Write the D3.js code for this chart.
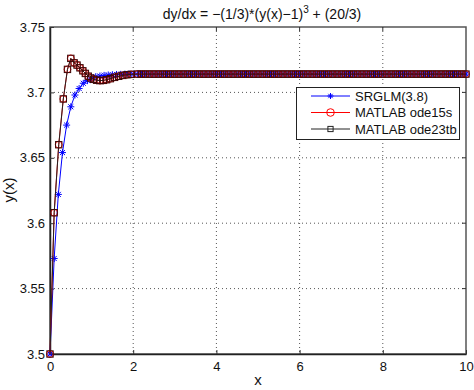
<!DOCTYPE html>
<html><head><meta charset="utf-8">
<script src="https://cdn.jsdelivr.net/npm/d3@7"></script>
<style>body{margin:0;background:#fff}svg{display:block;font-family:"Liberation Sans",Arial,sans-serif}</style>
</head><body><svg id="c" width="474" height="390"></svg>
<script>
const xTicks = [0, 2, 4, 6, 8, 10];
const yTicks = [3.5, 3.55, 3.6, 3.65, 3.7, 3.75];
const yTickLabels = ["3.5", "3.55", "3.6", "3.65", "3.7", "3.75"];
const seriesNames = ["SRGLM(3.8)", "MATLAB ode15s", "MATLAB ode23tb"];

// common flat tail (x = 2.1 .. 10)
const xTail = [2.1,2.2,2.3,2.4,2.5,2.6,2.7,2.8,2.9,3.0,3.1,3.2,3.3,3.4,3.5,3.6,3.7,3.8,3.9,4.0,
  4.1,4.2,4.3,4.4,4.5,4.6,4.7,4.8,4.9,5.0,5.1,5.2,5.3,5.4,5.5,5.6,5.7,5.8,5.9,6.0,
  6.1,6.2,6.3,6.4,6.5,6.6,6.7,6.8,6.9,7.0,7.1,7.2,7.3,7.4,7.5,7.6,7.7,7.8,7.9,8.0,
  8.1,8.2,8.3,8.4,8.5,8.6,8.7,8.8,8.9,9.0,9.1,9.2,9.3,9.4,9.5,9.6,9.7,9.8,9.9,10.0];
const yTail = [3.714,3.714,3.714,3.714,3.714,3.714,3.714,3.714,3.714,3.714,3.714,3.714,3.714,3.714,3.714,3.714,3.714,3.714,3.714,3.714,
  3.714,3.714,3.714,3.714,3.714,3.714,3.714,3.714,3.714,3.714,3.714,3.714,3.714,3.714,3.714,3.714,3.714,3.714,3.714,3.714,
  3.714,3.714,3.714,3.714,3.714,3.714,3.714,3.714,3.714,3.714,3.714,3.714,3.714,3.714,3.714,3.714,3.714,3.714,3.714,3.714,
  3.714,3.714,3.714,3.714,3.714,3.714,3.714,3.714,3.714,3.714,3.714,3.714,3.714,3.714,3.714,3.714,3.714,3.714,3.714,3.714];

// SRGLM early part
const xSrglm = [0,0.1,0.2,0.3,0.4,0.5,0.6,0.7,0.8,0.9,1.0,1.1,1.2,1.3,1.4,1.5,1.6,1.7,1.8,1.9,2.0];
const ySrglm = [3.5,3.573,3.622,3.654,3.675,3.689,3.698,3.703,3.707,3.709,3.711,3.712,3.7125,3.713,3.7133,3.7135,3.7137,3.7138,3.714,3.714,3.714];

// MATLAB solvers early part
const xOde = [0,0.1,0.21,0.32,0.42,0.5,0.58,0.65,0.72,0.79,0.85,0.92,0.98,1.05,1.12,1.2,1.28,1.36,1.45,1.55,1.65,1.75,1.85,1.95];
const yOde15s = [3.5,3.608,3.66,3.695,3.7176,3.726,3.7226,3.7209,3.7188,3.7165,3.7145,3.7124,3.711,3.710,3.7093,3.709,3.7092,3.7097,3.7105,3.7115,3.7123,3.713,3.7135,3.7138];
const yOde23tb = [3.5,3.608,3.66,3.695,3.7176,3.726,3.7226,3.7209,3.7188,3.7165,3.7145,3.7124,3.711,3.710,3.7093,3.709,3.7092,3.7097,3.7105,3.7115,3.7123,3.713,3.7135,3.7138];

const W = 474, H = 390;
const m = {l: 50, r: 466, t: 27, b: 354};
const svg = d3.select("#c");
const x = d3.scaleLinear().domain([0, 10]).range([m.l, m.r]);
const y = d3.scaleLinear().domain([3.5, 3.75]).range([m.b, m.t]);

// grid
const g = svg.append("g");
xTicks.slice(1, -1).forEach(v => g.append("line").attr("x1", x(v)).attr("x2", x(v)).attr("y1", m.t).attr("y2", m.b)
  .attr("stroke", "#555").attr("stroke-width", 1).attr("stroke-dasharray", "1,3"));
yTicks.slice(1, -1).forEach(v => g.append("line").attr("x1", m.l).attr("x2", m.r).attr("y1", y(v)).attr("y2", y(v))
  .attr("stroke", "#555").attr("stroke-width", 1).attr("stroke-dasharray", "1,3"));

// box
svg.append("rect").attr("x", m.l).attr("y", m.t).attr("width", m.r - m.l).attr("height", m.b - m.t)
  .attr("fill", "none").attr("stroke", "#555").attr("stroke-width", 1.5);

// axes
const xAxis = d3.axisBottom(x).tickValues(xTicks).tickSizeInner(-4).tickSizeOuter(0).tickPadding(8).tickFormat(d3.format("d"));
const yAxis = d3.axisLeft(y).tickValues(yTicks).tickSizeInner(-4).tickSizeOuter(0).tickPadding(5).tickFormat((d, i) => yTickLabels[i]);
const gx = svg.append("g").attr("transform", `translate(0,${m.b})`).call(xAxis);
const gy = svg.append("g").attr("transform", `translate(${m.l},0)`).call(yAxis);
[gx, gy].forEach(a => {
  a.select(".domain").attr("stroke", "#222").attr("stroke-width", 1.5);
  a.selectAll(".tick line").attr("stroke", "#333");
  a.selectAll("text").attr("font-size", 13).attr("fill", "#111").attr("font-family", '"Liberation Sans",Arial,sans-serif');
});
// top/right ticks
const ta = svg.append("g");
xTicks.slice(1, -1).forEach(v => ta.append("line").attr("x1", x(v)).attr("x2", x(v)).attr("y1", m.t).attr("y2", m.t + 4).attr("stroke", "#333"));
yTicks.slice(1, -1).forEach(v => ta.append("line").attr("x1", m.r).attr("x2", m.r - 4).attr("y1", y(v)).attr("y2", y(v)).attr("stroke", "#333"));

// markers
function star(sel, cx, cy, s, col) {
  const p = `M${cx - s},${cy}L${cx + s},${cy}M${cx},${cy - s}L${cx},${cy + s}` +
    `M${cx - s * 0.72},${cy - s * 0.72}L${cx + s * 0.72},${cy + s * 0.72}M${cx - s * 0.72},${cy + s * 0.72}L${cx + s * 0.72},${cy - s * 0.72}`;
  sel.append("path").attr("d", p).attr("stroke", col).attr("stroke-width", 1).attr("fill", "none");
}
function circle(sel, cx, cy, r, col) {
  sel.append("circle").attr("cx", cx).attr("cy", cy).attr("r", r).attr("fill", "none").attr("stroke", col).attr("stroke-width", 1);
}
function square(sel, cx, cy, s, col) {
  sel.append("rect").attr("x", cx - s).attr("y", cy - s).attr("width", 2 * s).attr("height", 2 * s)
    .attr("fill", "none").attr("stroke", col).attr("stroke-width", 1);
}

const line = d3.line().x(d => x(d[0])).y(d => y(d[1]));
const mk = (xs, ys) => xs.map((v, i) => [v, ys[i]]);
const dS = mk(xSrglm, ySrglm).concat(mk(xTail, yTail));
const d15 = mk(xOde, yOde15s).concat(mk(xTail, yTail));
const d23 = mk(xOde, yOde23tb).concat(mk(xTail, yTail));

const colors = ["#0000ff", "#ff0000", "#000000"];
const plot = svg.append("g");
plot.append("path").datum(dS).attr("d", line).attr("fill", "none").attr("stroke", colors[0]).attr("stroke-width", 1);
dS.forEach(d => star(plot, x(d[0]), y(d[1]), 3.5, colors[0]));
plot.append("path").datum(d15).attr("d", line).attr("fill", "none").attr("stroke", colors[1]).attr("stroke-width", 1);
d15.forEach(d => circle(plot, x(d[0]), y(d[1]), 3.4, colors[1]));
plot.append("path").datum(d23).attr("d", line).attr("fill", "none").attr("stroke", "#222").attr("stroke-width", 1);
d23.forEach(d => square(plot, x(d[0]), y(d[1]), 3.2, "#3a0a0a"));

// legend
const lg = svg.append("g");
lg.append("rect").attr("x", 296.5).attr("y", 87.5).attr("width", 163).attr("height", 52)
  .attr("fill", "#fff").attr("stroke", "#222").attr("stroke-width", 1);
const ly = [96, 112.5, 129];
seriesNames.forEach((n, i) => {
  lg.append("line").attr("x1", 311).attr("x2", 350).attr("y1", ly[i]).attr("y2", ly[i])
    .attr("stroke", i === 2 ? "#222" : colors[i]).attr("stroke-width", 1);
  if (i === 0) star(lg, 330.5, ly[i], 3, colors[0]);
  if (i === 1) circle(lg, 330.5, ly[i], 3.8, colors[1]);
  if (i === 2) square(lg, 330.5, ly[i], 2.6, "#222");
  lg.append("text").attr("x", 355).attr("y", ly[i] + 4.5).attr("font-size", 13).attr("fill", "#111").text(n);
});

// title
const t = svg.append("text").attr("x", 262).attr("y", 19).attr("text-anchor", "middle").attr("font-size", 14).attr("fill", "#111");
t.append("tspan").text("dy/dx = \u2212(1/3)*(y(x)\u22121)");
t.append("tspan").attr("dy", -6).attr("font-size", 10).text("3");
t.append("tspan").attr("dy", 6).text(" + (20/3)");

// axis labels
svg.append("text").attr("x", 258).attr("y", 385).attr("text-anchor", "middle").attr("font-size", 15).attr("fill", "#111").text("x");
svg.append("text").attr("transform", "translate(14,190) rotate(-90)").attr("text-anchor", "middle").attr("font-size", 15).attr("fill", "#111").text("y(x)");
</script></body></html>
